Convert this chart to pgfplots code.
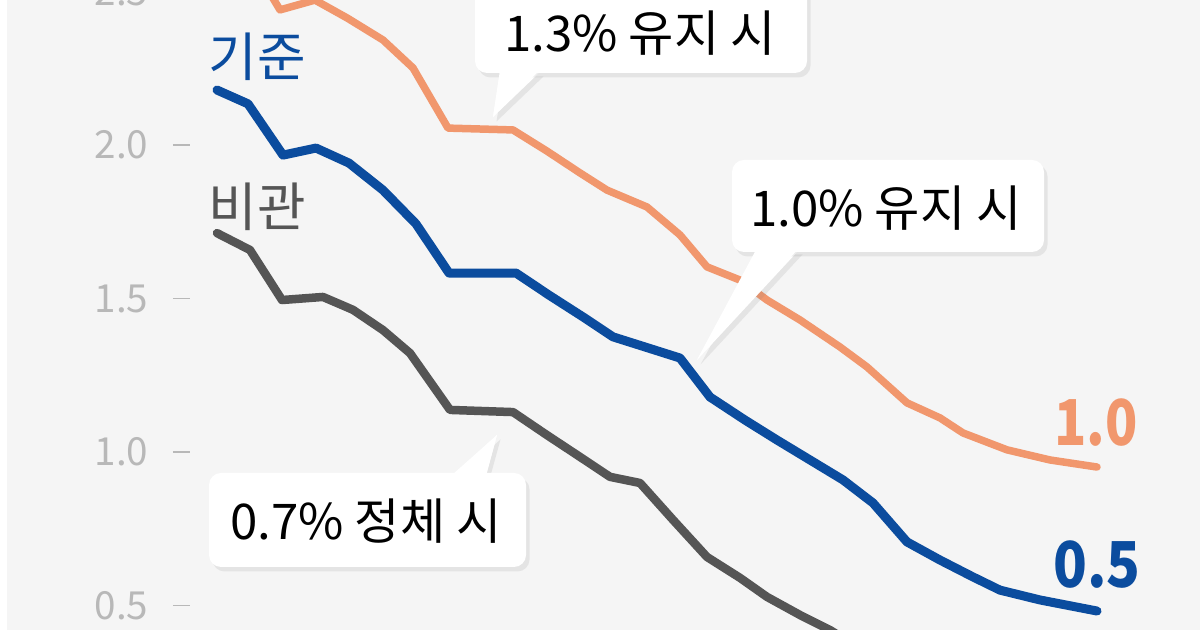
\documentclass[border=0pt]{standalone}
\usepackage{fontspec}
\setmainfont{Noto Sans CJK KR}
\usepackage{pgfplots}
\usepackage{pgfplotstable}
\pgfplotsset{compat=1.18}
\usetikzlibrary{shadows}

\definecolor{bg}{HTML}{F5F5F5}
\definecolor{optc}{HTML}{F1976D}
\definecolor{basec}{HTML}{0B4C9E}
\definecolor{pessc}{HTML}{555555}
\definecolor{tickc}{HTML}{B8B8B8}

% x: horizontal position (image pixels), y: value
\pgfplotstableread{
x y
217 2.651
250 2.603
280 2.440
315 2.472
347 2.414
383 2.342
413 2.251
448 2.055
513 2.049
547 1.980
580 1.909
607 1.853
647 1.798
680 1.707
707 1.603
740 1.560
767 1.495
800 1.430
840 1.342
867 1.277
907 1.160
940 1.111
963 1.062
1007 1.007
1050 0.974
1097 0.951
}\optimistic

\pgfplotstableread{
x y
217 2.179
248 2.134
283 1.967
316 1.990
349 1.941
383 1.853
416 1.743
449 1.583
516 1.583
549 1.511
583 1.440
613 1.375
648 1.339
680 1.306
710 1.179
745 1.104
777 1.039
810 0.974
843 0.909
873 0.834
907 0.707
940 0.648
973 0.593
1000 0.550
1040 0.518
1097 0.482
}\baseline

\pgfplotstableread{
x y
217 1.713
250 1.658
282 1.495
323 1.505
353 1.463
383 1.397
410 1.322
450 1.137
513 1.130
547 1.055
580 0.984
610 0.919
640 0.899
673 0.779
707 0.658
740 0.590
767 0.528
800 0.469
830 0.420
860 0.360
}\pessimistic

\begin{document}
\begin{tikzpicture}
\fill[white] (0,0) rectangle (120mm,63mm);
\fill[bg] (0.7mm,0) rectangle (120mm,63mm);

\begin{axis}[
  at={(19mm,0mm)}, anchor=south west,
  scale only axis, width=101mm, height=66.92mm,
  xmin=190, xmax=1200, ymin=0.4202, ymax=2.6,
  axis x line=none, axis y line=left,
  y axis line style={draw=none},
  ytick={0.5,1.0,1.5,2.0,2.5},
  tick align=outside, major tick length=1.7mm,
  major tick style={draw=tickc, line width=0.15mm},
  yticklabel style={font=\fontsize{11}{11}\selectfont, text=tickc,
    inner sep=0pt, xshift=-2.4mm,
    /pgf/number format/fixed, /pgf/number format/fixed zerofill,
    /pgf/number format/precision=1, /pgf/number format/assume math mode=true},
  every axis plot/.append style={line join=round, line cap=round},
]
\addplot[optc, line width=0.75mm] table {\optimistic};
\addplot[basec, line width=0.9mm] table {\baseline};
\addplot[pessc, line width=0.85mm] table {\pessimistic};
\end{axis}

% annotations in image pixel coordinates
\begin{scope}[x=0.1mm, y=-0.1mm, shift={(0,63mm)}]
  \tikzset{shd/.style={drop shadow={opacity=0.14, shadow xshift=0.35mm, shadow yshift=-0.45mm}}}
  % 1.3% callout
  \fill[white, shd] (500,72) -- (493,117) -- (540,72) -- cycle;
  \fill[white, shd, rounded corners=1.2mm] (475,-20) rectangle (807,73);
  \fill[white] (500,70) -- (493,117) -- (540,70) -- cycle;
  \node[font=\fontsize{14}{14}\selectfont] at (640,33) {1.3\% 유지 시};
  % 1.0% callout
  \fill[white, shd] (757,250) -- (697,360) -- (799,250) -- cycle;
  \fill[white, shd, rounded corners=1.2mm] (732,160) rectangle (1044,252);
  \fill[white] (757,248) -- (697,360) -- (799,248) -- cycle;
  \node[font=\fontsize{14}{14}\selectfont] at (886,208) {1.0\% 유지 시};
  % 0.7% callout
  \fill[white, shd] (452,475) -- (497,435) -- (486,475) -- cycle;
  \fill[white, shd, rounded corners=1.2mm] (209,473) rectangle (526,567);
  \fill[white] (452,476) -- (497,435) -- (486,476) -- cycle;
  \node[font=\fontsize{14}{14}\selectfont] at (366,521) {0.7\% 정체 시};
  % series labels
  \node[basec, font=\fontsize{15}{15}\selectfont] at (257,57) {기준};
  \node[pessc, font=\fontsize{15}{15}\selectfont] at (257,207) {비관};
  \node[optc, font=\fontsize{18}{18}\bfseries] at (1096,423) {\scalebox{0.84}[1]{1.0}};
  \node[basec, font=\fontsize{18}{18}\bfseries] at (1097,565) {\scalebox{0.88}[1]{0.5}};
\end{scope}

\pgfresetboundingbox
\path[use as bounding box] (0,0) rectangle (120mm,63mm);
\end{tikzpicture}
\end{document}
